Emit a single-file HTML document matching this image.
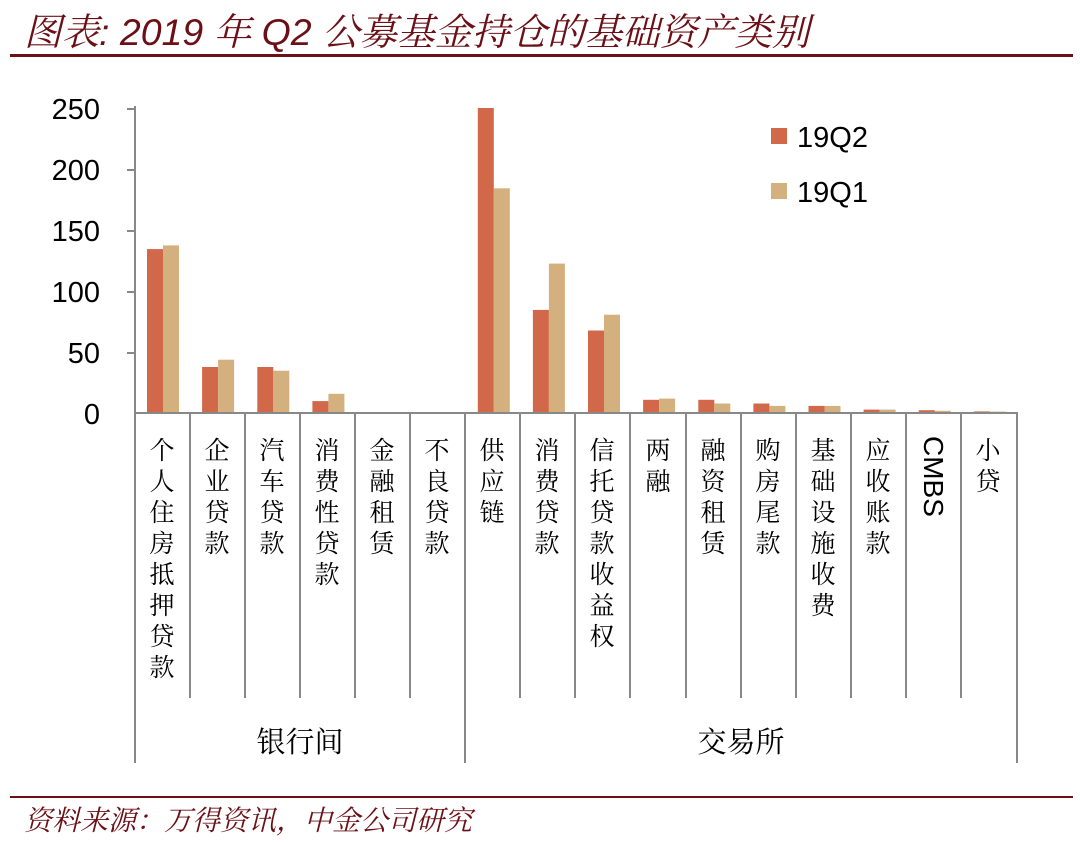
<!DOCTYPE html>
<html><head><meta charset="utf-8"><style>
body{margin:0;background:#fff;width:1080px;height:842px;overflow:hidden}
svg{display:block}
.t{font-family:"Liberation Sans",sans-serif;font-size:29px;fill:#000}
.v{font-family:"Noto Serif CJK SC","Noto Sans CJK SC",serif;font-size:25px;fill:#000;writing-mode:vertical-rl;letter-spacing:6px}
</style></head><body>
<svg width="1080" height="842" xmlns="http://www.w3.org/2000/svg">
<text x="24" y="45" font-family="'Liberation Sans','Noto Serif CJK SC',sans-serif" font-size="37.5" font-style="italic" fill="#6b1016">图表: 2019 年 Q2 公募基金持仓的基础资产类别</text>
<rect x="10" y="54" width="1063" height="3" fill="#6b1016"/>
<rect x="10" y="796" width="1063" height="2" fill="#6b1016"/>
<text x="24" y="830" font-family="'Noto Serif CJK SC',serif" font-size="28" font-style="italic" fill="#6b1016">资料来源：万得资讯，中金公司研究</text>
<g class="t" text-anchor="end">
<text x="100" y="119">250</text><text x="100" y="180">200</text><text x="100" y="241">150</text><text x="100" y="302">100</text><text x="100" y="363">50</text><text x="100" y="424">0</text>
</g>
<g stroke="#888" stroke-width="2">
<line x1="127" y1="109" x2="135" y2="109"/><line x1="127" y1="170" x2="135" y2="170"/><line x1="127" y1="231" x2="135" y2="231"/><line x1="127" y1="292" x2="135" y2="292"/><line x1="127" y1="353" x2="135" y2="353"/>
<line x1="135" y1="106" x2="135" y2="763"/>
<line x1="465" y1="413" x2="465" y2="763"/>
<line x1="1017" y1="413" x2="1017" y2="763"/>
<line x1="134" y1="413" x2="1018" y2="413"/>
<line x1="190" y1="413" x2="190" y2="698"/><line x1="245" y1="413" x2="245" y2="698"/><line x1="300" y1="413" x2="300" y2="698"/><line x1="355" y1="413" x2="355" y2="698"/><line x1="410" y1="413" x2="410" y2="698"/>
<line x1="520" y1="413" x2="520" y2="698"/><line x1="575" y1="413" x2="575" y2="698"/><line x1="630" y1="413" x2="630" y2="698"/><line x1="686" y1="413" x2="686" y2="698"/><line x1="741" y1="413" x2="741" y2="698"/><line x1="796" y1="413" x2="796" y2="698"/><line x1="851" y1="413" x2="851" y2="698"/><line x1="906" y1="413" x2="906" y2="698"/><line x1="961" y1="413" x2="961" y2="698"/>
</g>
<g fill="#d2684a">
<rect x="147" y="249.1" width="16" height="162.9"/>
<rect x="202.1" y="367" width="16" height="45"/>
<rect x="257.3" y="367" width="16" height="45"/>
<rect x="312.4" y="401.1" width="16" height="10.9"/>
<rect x="477.8" y="108" width="16" height="304"/>
<rect x="532.9" y="309.9" width="16" height="102.1"/>
<rect x="588" y="330.5" width="16" height="81.5"/>
<rect x="643.1" y="399.8" width="16" height="12.2"/>
<rect x="698.3" y="399.8" width="16" height="12.2"/>
<rect x="753.4" y="403.5" width="16" height="8.5"/>
<rect x="808.5" y="405.9" width="16" height="6.1"/>
<rect x="863.6" y="409.6" width="16" height="2.4"/>
<rect x="918.8" y="410.2" width="16" height="1.8"/>
<rect x="973.9" y="411.4" width="16" height="0.6"/>
</g>
<g fill="#d4b07f">
<rect x="163" y="245.4" width="16" height="166.6"/>
<rect x="218.1" y="359.7" width="16" height="52.3"/>
<rect x="273.3" y="370.7" width="16" height="41.3"/>
<rect x="328.4" y="393.8" width="16" height="18.2"/>
<rect x="493.8" y="188.3" width="16" height="223.7"/>
<rect x="548.9" y="263.6" width="16" height="148.4"/>
<rect x="604" y="314.7" width="16" height="97.3"/>
<rect x="659.1" y="398.6" width="16" height="13.4"/>
<rect x="714.3" y="403.5" width="16" height="8.5"/>
<rect x="769.4" y="405.9" width="16" height="6.1"/>
<rect x="824.5" y="405.9" width="16" height="6.1"/>
<rect x="879.6" y="409.6" width="16" height="2.4"/>
<rect x="934.8" y="410.8" width="16" height="1.2"/>
<rect x="989.9" y="411.6" width="16" height="0.4"/>
</g>
<rect x="771" y="128" width="16" height="16" fill="#d2684a"/>
<rect x="771" y="183" width="16" height="16" fill="#d4b07f"/>
<text class="t" x="797" y="147" font-size="32">19Q2</text>
<text class="t" x="797" y="202" font-size="32">19Q1</text>
<g class="v">
<text x="162" y="437">个人住房抵押贷款</text>
<text x="217" y="437">企业贷款</text>
<text x="272" y="437">汽车贷款</text>
<text x="327" y="437">消费性贷款</text>
<text x="382" y="437">金融租赁</text>
<text x="437" y="437">不良贷款</text>
<text x="492" y="437">供应链</text>
<text x="547" y="437">消费贷款</text>
<text x="602" y="437">信托贷款收益权</text>
<text x="658" y="437">两融</text>
<text x="713" y="437">融资租赁</text>
<text x="768" y="437">购房尾款</text>
<text x="823" y="437">基础设施收费</text>
<text x="878" y="437">应收账款</text>
<text x="988" y="437">小贷</text>
</g>
<text transform="translate(924,436) rotate(90)" font-family="'Liberation Sans',sans-serif" font-size="28" fill="#000">CMBS</text>
<text x="300" y="752" text-anchor="middle" font-family="'Noto Serif CJK SC',serif" font-size="29">银行间</text>
<text x="741" y="752" text-anchor="middle" font-family="'Noto Serif CJK SC',serif" font-size="29">交易所</text>
</svg>
</body></html>
